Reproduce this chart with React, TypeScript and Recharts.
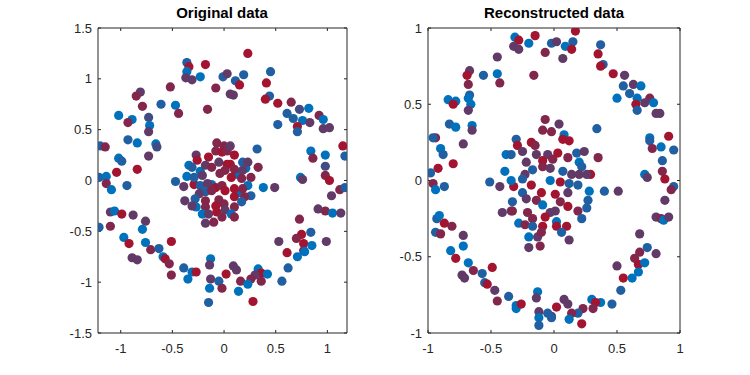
import React from 'react'
import { ScatterChart, Scatter, XAxis, YAxis } from 'recharts'

// [x, y, colour level 0 (blue) .. 5 (red)]
const origPoints: [number, number, number][] = [
  [-0.36, 1.16, 1], [-0.34, 1.12, 5], [-0.18, 1.14, 5], [-0.36, 1.07, 0], [-0.37, 1.01, 3],
  [-0.31, 0.99, 3], [-0.23, 1.02, 0], [-0.52, 0.92, 4], [-0.08, 0.91, 4], [-0.01, 1.02, 1],
  [0.03, 1.05, 3], [0.06, 0.85, 3], [-0.81, 0.87, 3], [-0.85, 0.83, 4], [-0.79, 0.73, 4],
  [-0.61, 0.75, 1], [-0.47, 0.74, 0], [-0.44, 0.66, 4], [-0.16, 0.7, 4], [-1.02, 0.64, 0],
  [-0.89, 0.6, 0], [-0.93, 0.57, 4], [-0.73, 0.62, 2], [-0.72, 0.54, 0], [-0.73, 0.48, 3],
  [-0.93, 0.4, 1], [-0.84, 0.37, 0], [-0.66, 0.36, 0], [-0.65, 0.33, 2], [-0.73, 0.24, 3],
  [-1.2, 0.34, 1], [-1.15, 0.33, 4], [-1.02, 0.22, 0], [-0.99, 0.19, 1], [-1.04, 0.08, 5],
  [-0.84, 0.11, 5], [-1.21, 0.03, 1], [-1.14, 0.04, 0], [-1.14, -0.03, 4], [-0.94, -0.05, 1],
  [-1.09, -0.09, 0], [-0.47, -0.01, 1], [-0.39, -0.06, 3], [-0.29, -0.04, 5], [-0.38, -0.2, 3],
  [-0.27, -0.26, 0], [-0.18, -0.42, 3], [-0.1, -0.41, 4],
  [0.23, 1.25, 5], [0.11, 0.98, 1], [0.19, 1.04, 1], [0.15, 0.94, 5], [0.09, 0.84, 3],
  [0.45, 1.07, 1], [0.41, 0.96, 5], [0.44, 0.83, 1], [0.4, 0.8, 5], [0.52, 0.76, 5],
  [0.65, 0.77, 4], [0.73, 0.7, 2], [0.82, 0.71, 0], [0.61, 0.66, 1], [0.67, 0.61, 1],
  [0.76, 0.59, 0], [0.92, 0.64, 4], [0.96, 0.6, 0], [0.83, 0.57, 3], [0.71, 0.53, 5],
  [0.71, 0.48, 1], [0.52, 0.55, 1], [0.96, 0.51, 3], [1.02, 0.52, 3], [1.15, 0.34, 5],
  [1.17, 0.24, 1], [0.84, 0.29, 0], [0.86, 0.22, 4], [0.98, 0.25, 0], [0.98, 0.14, 2],
  [0.32, 0.31, 1], [0.33, 0.13, 4], [0.74, 0.03, 0], [0.76, 0.01, 3], [0.98, 0.05, 4],
  [1.02, 0.0, 5], [1.12, -0.09, 4], [1.17, -0.07, 1],
  [-1.1, -0.31, 3], [-1.06, -0.3, 0], [-0.99, -0.33, 5], [-0.88, -0.34, 3], [-0.76, -0.4, 3],
  [-0.79, -0.48, 0], [-1.21, -0.46, 1], [-1.1, -0.45, 4], [-0.97, -0.56, 0], [-0.92, -0.62, 5],
  [-0.76, -0.61, 0], [-0.71, -0.68, 4], [-0.63, -0.67, 1], [-0.51, -0.6, 5], [-0.89, -0.76, 3],
  [-0.84, -0.78, 3], [-0.59, -0.75, 0], [-0.57, -0.77, 5], [-0.53, -0.82, 4], [-0.51, -0.93, 4],
  [-0.39, -0.86, 1], [-0.31, -0.9, 0], [-0.35, -0.97, 0], [-0.27, -0.9, 5], [-0.13, -0.77, 0],
  [-0.14, -0.83, 3], [-0.13, -0.97, 3], [-0.05, -0.99, 1], [-0.02, -1.06, 4], [-0.14, -1.06, 0],
  [-0.15, -1.2, 1], [0.02, -0.92, 5], [0.09, -0.84, 3], [0.12, -0.88, 3],
  [0.38, -0.07, 0], [0.49, -0.07, 3], [1.04, -0.15, 3], [0.91, -0.28, 3], [0.98, -0.3, 4],
  [1.05, -0.32, 0], [1.13, -0.32, 3], [0.73, -0.38, 4], [0.84, -0.51, 1], [0.75, -0.53, 5],
  [0.7, -0.57, 4], [0.77, -0.62, 5], [0.85, -0.64, 0], [0.77, -0.69, 4], [0.99, -0.6, 3],
  [0.53, -0.6, 3], [0.61, -0.71, 5], [0.71, -0.75, 0], [0.78, -0.7, 0], [0.62, -0.86, 1],
  [0.56, -0.99, 1], [0.33, -0.87, 0], [0.36, -0.91, 5], [0.42, -0.92, 0], [0.3, -0.93, 3],
  [0.26, -0.97, 4], [0.16, -0.99, 4], [0.23, -1.02, 0], [0.36, -0.99, 4], [0.14, -1.09, 0],
  [0.28, -1.19, 5],
  [0.13, 0.06, 0], [0.21, 0.12, 0], [-0.23, 0.09, 0], [-0.12, -0.04, 0], [0.16, -0.12, 0],
  [-0.07, 0.37, 4], [0.0, 0.34, 4], [-0.08, 0.29, 4], [-0.02, 0.28, 5], [0.03, 0.29, 4],
  [-0.27, 0.25, 3], [-0.15, 0.23, 5], [-0.26, 0.2, 5], [-0.34, 0.15, 0], [-0.31, 0.13, 1],
  [-0.18, 0.15, 3], [-0.05, 0.18, 3], [0.03, 0.16, 5], [-0.12, 0.13, 4], [0.01, 0.1, 4],
  [-0.36, 0.04, 0], [-0.29, 0.03, 1], [-0.21, 0.05, 3], [-0.04, 0.07, 4], [-0.23, -0.05, 1],
  [-0.16, -0.03, 3], [-0.08, -0.07, 5], [-0.02, -0.05, 4], [-0.18, -0.11, 1], [-0.24, -0.13, 3],
  [-0.12, -0.1, 4], [0.01, -0.1, 5], [-0.28, -0.18, 1], [-0.18, -0.2, 4], [-0.05, -0.19, 4],
  [-0.31, -0.25, 3], [-0.18, -0.26, 4], [-0.08, -0.25, 5], [0.0, -0.23, 4], [-0.21, -0.33, 0],
  [-0.15, -0.33, 3], [-0.07, -0.31, 5], [0.01, -0.29, 3], [-0.02, -0.36, 4],
  [0.06, 0.34, 3], [0.1, 0.25, 5], [0.18, 0.18, 1], [0.23, 0.18, 3], [0.06, 0.16, 5],
  [0.1, 0.11, 4], [0.18, 0.1, 3], [0.26, 0.03, 4], [0.17, 0.02, 4], [0.07, 0.03, 5],
  [0.23, -0.05, 0], [0.1, -0.08, 5], [0.18, -0.08, 4], [0.26, -0.15, 1], [0.2, -0.16, 4],
  [0.1, -0.16, 5], [0.17, -0.21, 1], [0.1, -0.26, 4], [0.07, -0.33, 0], [0.1, -0.36, 4],
]

const reconPoints: [number, number, number][] = [
  [-0.31, 0.94, 0], [-0.28, 0.92, 5], [-0.15, 0.95, 5], [-0.2, 0.9, 0], [-0.32, 0.88, 3],
  [-0.28, 0.86, 3], [-0.07, 0.84, 4], [-0.02, 0.9, 1], [0.02, 0.91, 3], [0.07, 0.8, 3],
  [-0.45, 0.81, 3], [-0.67, 0.72, 3], [-0.69, 0.69, 5], [-0.68, 0.63, 4], [-0.56, 0.69, 1],
  [-0.45, 0.7, 0], [-0.43, 0.64, 4], [-0.16, 0.69, 4], [-0.67, 0.56, 1], [-0.68, 0.54, 0],
  [-0.84, 0.53, 0], [-0.78, 0.52, 0], [-0.8, 0.5, 5], [-0.66, 0.5, 0], [-0.68, 0.46, 3],
  [-0.83, 0.37, 1], [-0.78, 0.35, 0], [-0.65, 0.36, 0], [-0.65, 0.33, 3], [-0.94, 0.28, 4],
  [-0.96, 0.28, 1], [-0.72, 0.24, 3], [-0.9, 0.21, 0], [-0.88, 0.17, 1], [-0.8, 0.11, 5],
  [-0.92, 0.08, 5], [-0.98, 0.05, 1], [-0.96, -0.02, 4], [-0.94, -0.06, 0], [-0.87, -0.04, 1],
  [-0.51, -0.01, 1], [-0.39, 0.06, 0], [-0.43, -0.04, 3], [-0.32, -0.04, 5],
  [0.17, 0.98, 5], [0.09, 0.88, 0], [0.15, 0.91, 1], [0.14, 0.86, 5], [0.37, 0.89, 1],
  [0.35, 0.83, 5], [0.39, 0.76, 1], [0.37, 0.75, 5], [0.47, 0.7, 5], [0.56, 0.69, 3],
  [0.55, 0.62, 1], [0.63, 0.63, 3], [0.69, 0.62, 0], [0.6, 0.57, 1], [0.5, 0.54, 0],
  [0.66, 0.54, 0], [0.76, 0.54, 4], [0.65, 0.5, 5], [0.72, 0.51, 3], [0.79, 0.51, 0],
  [0.66, 0.46, 1], [0.81, 0.44, 3], [0.84, 0.44, 3], [0.34, 0.34, 1], [0.76, 0.28, 0],
  [0.76, 0.26, 1], [0.91, 0.29, 5], [0.85, 0.22, 0], [0.78, 0.21, 4], [0.95, 0.2, 1],
  [0.86, 0.13, 1], [0.35, 0.15, 4], [0.72, 0.04, 0], [0.74, 0.02, 3], [0.86, 0.06, 4],
  [0.88, 0.01, 5], [0.29, 0.04, 5],
  [0.95, -0.04, 1], [0.93, -0.06, 4], [0.28, -0.07, 0], [0.4, -0.07, 1], [0.51, -0.07, 3],
  [0.88, -0.13, 3], [0.81, -0.24, 3], [0.85, -0.25, 4], [0.87, -0.26, 0], [0.91, -0.24, 3],
  [0.68, -0.35, 3], [0.74, -0.44, 1], [0.81, -0.48, 3], [0.68, -0.47, 4], [0.64, -0.51, 4],
  [0.67, -0.55, 5], [0.72, -0.54, 0], [0.67, -0.6, 0], [0.62, -0.64, 0], [0.55, -0.64, 5],
  [0.5, -0.56, 3], [0.53, -0.72, 1], [0.46, -0.81, 1], [0.37, -0.8, 0], [0.3, -0.78, 0],
  [0.33, -0.8, 5], [0.31, -0.84, 4], [0.23, -0.84, 4], [0.19, -0.87, 1], [0.14, -0.87, 4],
  [0.12, -0.91, 0], [0.22, -0.94, 5], [0.08, -0.78, 3], [0.11, -0.81, 3], [0.02, -0.83, 5],
  [-0.02, -0.89, 3],
  [-0.93, -0.25, 1], [-0.91, -0.23, 0], [-0.87, -0.28, 5], [-0.81, -0.3, 4], [-0.94, -0.34, 1],
  [-0.9, -0.35, 4], [-0.72, -0.36, 3], [-0.72, -0.43, 0], [-0.82, -0.46, 0], [-0.78, -0.51, 5],
  [-0.68, -0.54, 0], [-0.64, -0.59, 4], [-0.57, -0.61, 1], [-0.49, -0.57, 5], [-0.73, -0.62, 3],
  [-0.71, -0.64, 3], [-0.55, -0.67, 1], [-0.53, -0.68, 5], [-0.47, -0.72, 3], [-0.45, -0.79, 4],
  [-0.36, -0.76, 1], [-0.3, -0.82, 0], [-0.3, -0.84, 0], [-0.26, -0.81, 5], [-0.13, -0.73, 0],
  [-0.14, -0.77, 3], [-0.12, -0.86, 3], [-0.12, -0.9, 0], [-0.12, -0.95, 1], [-0.05, -0.87, 1],
  [-0.02, -0.9, 1], [-0.41, -0.21, 3], [-0.34, -0.2, 3], [-0.2, -0.44, 3], [-0.11, -0.43, 4],
  [-0.2, -0.37, 0], [-0.28, -0.28, 0], [-0.13, -0.37, 3],
  [-0.07, 0.4, 4], [-0.09, 0.33, 4], [-0.02, 0.32, 4], [-0.3, 0.27, 1], [-0.29, 0.23, 5],
  [-0.18, 0.25, 5], [-0.15, 0.23, 4], [-0.25, 0.19, 3], [-0.38, 0.17, 0], [-0.34, 0.17, 1],
  [-0.14, 0.17, 3], [-0.05, 0.17, 3], [-0.22, 0.12, 3], [-0.09, 0.13, 5], [-0.01, 0.14, 4],
  [-0.23, 0.04, 3], [-0.17, 0.07, 1], [-0.09, 0.09, 4], [-0.03, 0.08, 3], [-0.34, 0.0, 0],
  [-0.25, 0.01, 1], [-0.18, -0.03, 5], [-0.1, -0.08, 5], [-0.03, 0.0, 0], [-0.25, -0.08, 1],
  [-0.33, -0.14, 1], [-0.22, -0.12, 3], [-0.14, -0.13, 4], [-0.33, -0.2, 4], [-0.21, -0.21, 4],
  [-0.09, -0.16, 0], [-0.03, -0.21, 3], [-0.23, -0.29, 4], [-0.17, -0.25, 4], [-0.07, -0.24, 5],
  [-0.09, -0.3, 5], [-0.1, -0.34, 4], [-0.17, -0.3, 1],
  [0.04, 0.37, 3], [0.08, 0.3, 0], [0.12, 0.26, 5], [0.07, 0.27, 5], [0.18, 0.18, 1],
  [0.24, 0.19, 3], [0.03, 0.18, 5], [0.11, 0.15, 4], [0.2, 0.12, 0], [0.22, 0.09, 1],
  [0.26, 0.04, 3], [0.07, 0.06, 1], [0.14, 0.04, 3], [0.2, 0.04, 3], [0.05, -0.01, 5],
  [0.12, -0.02, 1], [0.19, -0.03, 1], [0.01, -0.09, 5], [0.11, -0.08, 3], [0.27, -0.13, 1],
  [0.05, -0.14, 4], [0.11, -0.17, 5], [0.19, -0.2, 4], [0.26, -0.18, 1], [0.01, -0.2, 3],
  [0.22, -0.25, 1], [0.02, -0.27, 0], [0.1, -0.3, 5], [0.02, -0.3, 5], [0.06, -0.34, 1],
  [0.12, -0.39, 3],
]

const origXTicks = [-1, -0.5, 0, 0.5, 1]
const origYTicks = [-1.5, -1, -0.5, 0, 0.5, 1, 1.5]
const reconXTicks = [-1, -0.5, 0, 0.5, 1]
const reconYTicks = [-1, -0.5, 0, 0.5, 1]

const FONT = '"Liberation Sans", Arial, Helvetica, sans-serif'
const AXIS = '#262626'

/** blue (#0072BD) -> red (#A2142F) */
function levelColor(level: number): string {
  const t = level / 5
  const r = Math.round(0 + 162 * t)
  const g = Math.round(114 - 94 * t)
  const b = Math.round(189 - 142 * t)
  return `rgb(${r},${g},${b})`
}

function Dot(props: any) {
  const { cx, cy, payload } = props
  if (cx == null || cy == null) return null
  return <circle cx={cx} cy={cy} r={4.6} fill={levelColor(payload.c)} />
}

function NoDot() {
  return <g />
}

interface PanelProps {
  title: string
  points: [number, number, number][]
  xDomain: [number, number]
  yDomain: [number, number]
  xTicks: number[]
  yTicks: number[]
  left: number
  margin: { top: number; right: number; bottom: number; left: number }
  titleX: number
}

function Panel({ title, points, xDomain, yDomain, xTicks, yTicks, left, margin, titleX }: PanelProps) {
  const data = points.map(([x, y, c]) => ({ x, y, c }))
  const tickStyle = { fontSize: 13, fill: AXIS, fontFamily: FONT }
  const line = { stroke: AXIS, strokeWidth: 1 }
  return (
    <div style={{ position: 'absolute', left, top: 0, width: 375, height: 375 }}>
      <div
        style={{
          position: 'absolute',
          left: titleX - 120,
          width: 240,
          top: 4,
          textAlign: 'center',
          fontFamily: FONT,
          fontWeight: 'bold',
          fontSize: 15,
          lineHeight: '18px',
          color: '#000',
        }}
      >
        {title}
      </div>
      <ScatterChart width={375} height={375} margin={margin}>
        <XAxis
          xAxisId="b"
          type="number"
          dataKey="x"
          domain={xDomain}
          ticks={xTicks}
          allowDataOverflow
          orientation="bottom"
          height={30}
          tickSize={-3}
          tickMargin={14}
          tick={tickStyle}
          axisLine={line}
          tickLine={line}
        />
        <XAxis
          xAxisId="t"
          type="number"
          dataKey="x"
          domain={xDomain}
          ticks={xTicks}
          allowDataOverflow
          orientation="top"
          height={1}
          tickSize={-3}
          tickFormatter={() => ''}
          axisLine={line}
          tickLine={line}
        />
        <YAxis
          yAxisId="l"
          type="number"
          dataKey="y"
          domain={yDomain}
          ticks={yTicks}
          allowDataOverflow
          width={30}
          tickSize={-3}
          tickMargin={9}
          tick={tickStyle}
          axisLine={line}
          tickLine={line}
        />
        <YAxis
          yAxisId="r"
          type="number"
          dataKey="y"
          orientation="right"
          domain={yDomain}
          ticks={yTicks}
          allowDataOverflow
          width={1}
          tickSize={-3}
          tickFormatter={() => ''}
          axisLine={line}
          tickLine={line}
        />
        <Scatter
          xAxisId="t"
          yAxisId="r"
          data={data}
          shape={<NoDot />}
          isAnimationActive={false}
        />
        <Scatter
          xAxisId="b"
          yAxisId="l"
          data={data}
          shape={<Dot />}
          isAnimationActive={false}
        />
      </ScatterChart>
    </div>
  )
}

export default function App() {
  return (
    <div
      style={{
        position: 'absolute',
        left: 0,
        top: 0,
        width: 750,
        height: 375,
        background: '#fff',
        overflow: 'hidden',
      }}
    >
      <Panel
        title="Original data"
        points={origPoints}
        xDomain={[-1.22, 1.19]}
        yDomain={[-1.5, 1.5]}
        xTicks={origXTicks}
        yTicks={origYTicks}
        left={0}
        margin={{ top: 27, right: 27, bottom: 12, left: 68 }}
        titleX={222}
      />
      <Panel
        title="Reconstructed data"
        points={reconPoints}
        xDomain={[-1, 1]}
        yDomain={[-1, 1]}
        xTicks={reconXTicks}
        yTicks={reconYTicks}
        left={375}
        margin={{ top: 27, right: 69, bottom: 12, left: 23 }}
        titleX={179}
      />
    </div>
  )
}
